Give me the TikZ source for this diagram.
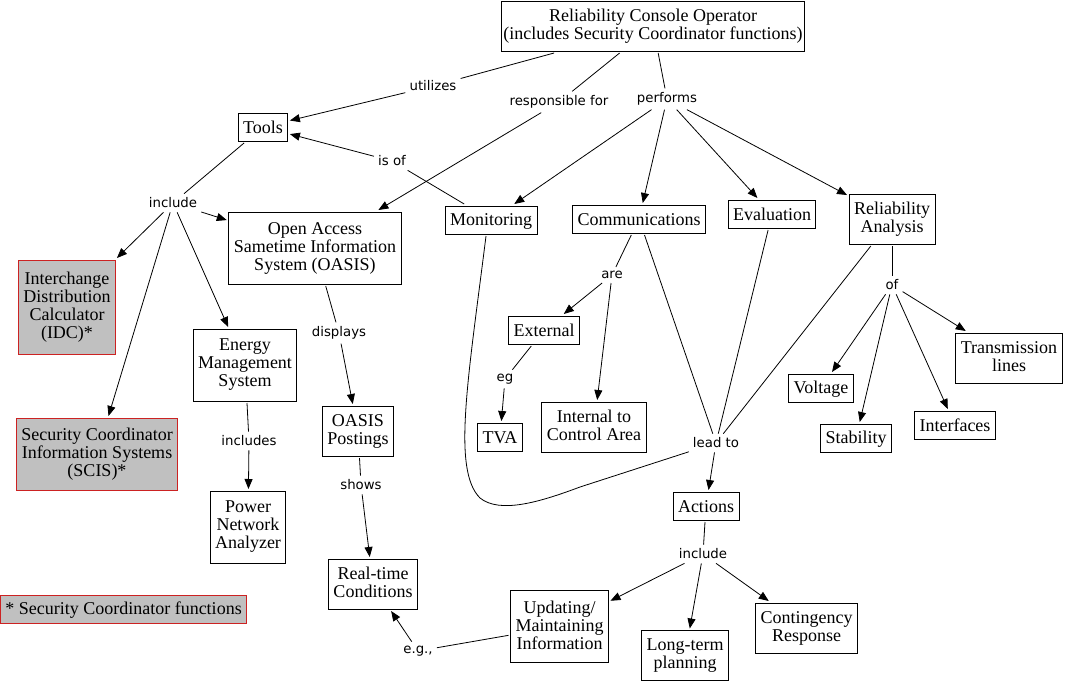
\documentclass[tikz,border=0pt]{standalone}
\usepackage{fontspec}
\setmainfont{Liberation Serif}
\newfontfamily\linkfont{DejaVu Sans}
\usetikzlibrary{arrows.meta}
\definecolor{scgray}{RGB}{192, 192, 192}
\definecolor{scred}{RGB}{204, 34, 34}
\newcommand{\boxstrut}{\rule[-3pt]{0pt}{18pt}}

\begin{document}
\begin{tikzpicture}[x=1pt, y=-1pt,
		concept/.style={draw, line width=1pt, fill=white, align=center, inner xsep=5pt, inner ysep=1pt, outer sep=2pt, minimum height=28pt, font=\fontsize{18}{18}\selectfont, execute at begin node=\boxstrut, execute at end node=\boxstrut},
		nlines/.style={minimum height={6pt+22pt*#1}},
		scfunc/.style={concept, fill=scgray, draw=scred},
		linkword/.style={font=\linkfont\fontsize{13.3}{14}\selectfont, inner sep=4pt},
		plainline/.style={line width=0.8pt},
		linkarrow/.style={line width=0.8pt, -{Triangle[length=10pt, width=8pt]}}]
			
			\useasboundingbox (0, 0) rectangle (1066, 683);
			
			% OPERATOR
			\node[concept, nlines=2, inner xsep=2pt] (rco) at (653, 26) {Reliability Console Operator\\(includes Security Coordinator functions)};
			
			% TOOLS SIDE
			\node[concept] (tools) at (263, 127) {Tools};
			\node[concept, nlines=3] (oasis) at (315, 248) {Open Access\\Sametime Information\\System (OASIS)};
			\node[scfunc, nlines=4] (idc) at (67, 307) {Interchange\\Distribution\\Calculator\\(IDC)*};
			\node[scfunc, nlines=3] (scis) at (97, 454) {Security Coordinator\\Information Systems\\(SCIS)*};
			\node[concept, nlines=3] (ems) at (245, 365) {Energy\\Management\\System};
			\node[concept, nlines=2] (post) at (358, 431) {OASIS\\Postings};
			\node[concept, nlines=3] (pna) at (248, 527) {Power\\Network\\Analyzer};
			\node[concept, nlines=2] (rtc) at (373, 584) {Real-time\\Conditions};
			\node[scfunc] (legend) at (123.5, 609) {* Security Coordinator functions};
			
			% TASKS
			\node[concept] (mon) at (491, 220) {Monitoring};
			\node[concept] (comm) at (639, 219) {Communications};
			\node[concept] (eval) at (772, 214) {Evaluation};
			\node[concept, nlines=2] (relan) at (892, 219) {Reliability\\Analysis};
			\node[concept] (ext) at (544, 330) {External};
			\node[concept] (tva) at (500, 437) {TVA};
			\node[concept, nlines=2] (intl) at (594, 427) {Internal to\\Control Area};
			\node[concept] (volt) at (821, 388) {Voltage};
			\node[concept] (stab) at (856, 438) {Stability};
			\node[concept] (intf) at (955, 425) {Interfaces};
			\node[concept, nlines=2] (trans) at (1009, 358) {Transmission\\lines};
			
			% ACTIONS
			\node[concept] (act) at (706, 506) {Actions};
			\node[concept, nlines=3] (upd) at (559.5, 626.5) {Updating/\\Maintaining\\Information};
			\node[concept, nlines=2] (ltp) at (685, 655.5) {Long-term\\planning};
			\node[concept, nlines=2] (cont) at (806.5, 628) {Contingency\\Response};
			
			% LINKING WORDS
			\node[linkword] (utl) at (433, 86) {utilizes};
			\node[linkword] (resp) at (559, 102) {responsible for};
			\node[linkword] (perf) at (667, 99) {performs};
			\node[linkword] (isof) at (392, 161) {is of};
			\node[linkword] (incl) at (173, 203) {include};
			\node[linkword] (disp) at (339, 333) {displays};
			\node[linkword] (incs) at (249, 441) {includes};
			\node[linkword] (shows) at (361, 485) {shows};
			\node[linkword] (are) at (612, 275) {are};
			\node[linkword] (eg) at (505, 379) {eg};
			\node[linkword] (of) at (892, 285) {of};
			\node[linkword] (ledto) at (716, 443) {lead to};
			\node[linkword] (aincl) at (703, 554) {include};
			\node[linkword] (egc) at (418, 651) {e.g.,};
			
			% CONNECTORS
			\draw[plainline] (rco) -- (utl);
			\draw[linkarrow] (utl) -- (tools);
			\draw[plainline] (rco) -- (resp);
			\draw[linkarrow] (resp) -- (oasis);
			\draw[plainline] (rco) -- (perf);
			\foreach \t in {mon, comm, eval, relan}
				\draw[linkarrow] (perf) -- (\t);
			\draw[plainline] (mon) -- (isof);
			\draw[linkarrow] (isof) -- (tools);
			\draw[plainline] (tools) -- (incl);
			\foreach \t in {idc, scis, ems, oasis}
				\draw[linkarrow] (incl) -- (\t);
			\draw[plainline] (oasis) -- (disp);
			\draw[linkarrow] (disp) -- (post);
			\draw[plainline] (ems) -- (incs);
			\draw[linkarrow] (incs) -- (pna);
			\draw[plainline] (post) -- (shows);
			\draw[linkarrow] (shows) -- (rtc);
			\draw[plainline] (comm) -- (are);
			\draw[linkarrow] (are) -- (ext);
			\draw[linkarrow] (are) -- (intl);
			\draw[plainline] (ext) -- (eg);
			\draw[linkarrow] (eg) -- (tva);
			\draw[plainline] (relan) -- (of);
			\foreach \t in {volt, stab, intf, trans}
				\draw[linkarrow] (of) -- (\t);
			
			% LEAD TO
			\foreach \s in {comm, eval, relan}
				\draw[plainline] (\s) -- (ledto);
			\draw[plainline] ([xshift=-5pt]mon.south) .. controls (468, 380) and (452, 470) .. (480, 498) .. controls (500, 514) and (540, 502) .. (580, 487) -- (ledto);
			\draw[linkarrow] (ledto) -- (act);
			\draw[plainline] (act) -- (aincl);
			\foreach \t in {upd, ltp, cont}
				\draw[linkarrow] (aincl) -- (\t);
			\draw[plainline] (upd) -- (egc);
			\draw[linkarrow] (egc) -- (rtc);
			
		\end{tikzpicture}
\end{document}
